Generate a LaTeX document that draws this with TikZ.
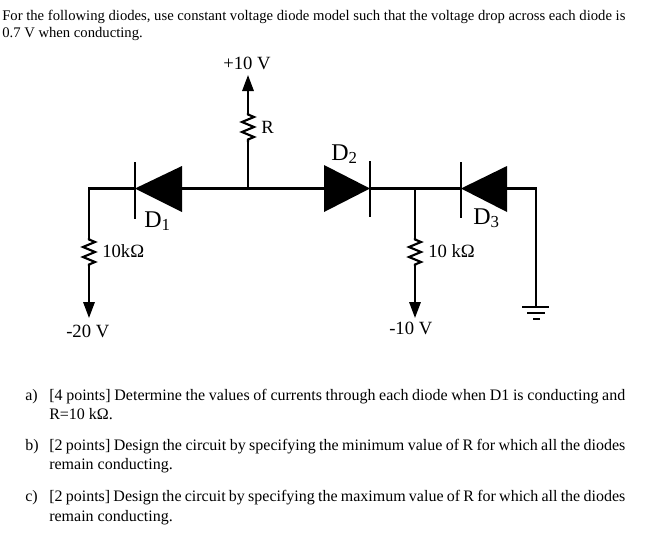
\documentclass[tikz,border=0pt]{standalone}
\usepackage{fontspec}
\setmainfont{Liberation Serif}
\usetikzlibrary{arrows.meta}
\newcommand{\zig}[2]{\draw[wire] (#1) -- ++(0,1.5) -- ++(6,2.5) -- ++(-12,5) -- ++(12,5) -- ++(-12,5) -- ++(12,5) -- ++(-6,2.5) -- (#2);}
\newcommand{\itm}[2]{\makebox[18pt][l]{#1}\makebox[432pt][s]{\spaceskip=3pt plus 1fil minus 1fil #2}}
\tikzset{
 x=0.75pt,y=-0.75pt,
 wire/.style={line width=1.6pt,line join=miter},
 tip/.style={-{Triangle[length=12pt,width=8.5pt]},line width=1.6pt,shorten >=0pt},
 body/.style={fill=black,draw=none},
 bar/.style={line width=1.3pt},
 gnd/.style={line width=2pt},
 txt/.style={anchor=base west,inner sep=0pt,font=\fontsize{11}{13}\selectfont},
 qtxt/.style={anchor=base west,inner sep=0pt,font=\fontsize{12}{14}\selectfont},
 lab/.style={anchor=base west,inner sep=0pt,font=\fontsize{14}{16}\selectfont},
 big/.style={anchor=base west,inner sep=0pt,font=\fontsize{18}{20}\selectfont},
}
\begin{document}
\begin{tikzpicture}
\useasboundingbox (0,0) rectangle (659,533);
% text
\node[txt] (t1) at (2,20) {For the following diodes, use constant voltage diode model such that the voltage drop across each diode is};
\node[txt] (t2) at (2,37) {0.7 V when conducting.};
\node[qtxt] (a1) at (25,400) {\itm{a)}{[4 points] Determine the values of currents through each diode when D1 is conducting and}};
\node[qtxt] (a2) at (49,419) {R=10 kΩ.};
\node[qtxt] (b1) at (25,450) {\itm{b)}{[2 points] Design the circuit by specifying the minimum value of R for which all the diodes}};
\node[qtxt] (b2) at (49,469) {remain conducting.};
\node[qtxt] (c1) at (25,501) {\itm{c)}{[2 points] Design the circuit by specifying the maximum value of R for which all the diodes}};
\node[qtxt] (c2) at (49,521) {remain conducting.};
% labels
\node[lab] (vp) at (223,69) {+10 V};
\node[lab] (rl) at (261,133) {R};
\node[lab] (k1) at (102,257) {10kΩ};
\node[lab] (k2) at (428,257) {10 kΩ};
\node[lab] (vm1) at (66,337) {-20 V};
\node[lab] (vm2) at (389,334) {-10 V};
\node[big] (d1) at (144,227) {D\textsubscript{1}};
\node[big] (d2) at (331,160) {D\textsubscript{2}};
\node[big] (d3) at (473,224) {D\textsubscript{3}};
% coordinates
\coordinate (J) at (248,188.5);
\coordinate (Rtop) at (248,113);
\coordinate (Rbot) at (248,142);
\coordinate (Vp) at (248,75);
\coordinate (D1c) at (135,188.5);
\coordinate (D1a) at (182,188.5);
\coordinate (L) at (89,188.5);
\coordinate (R1t) at (89,238);
\coordinate (R1b) at (89,266);
\coordinate (Vm1) at (89,318);
\coordinate (D2a) at (324,188.5);
\coordinate (D2c) at (370,188.5);
\coordinate (M) at (415,188.5);
\coordinate (R2t) at (415,238);
\coordinate (R2b) at (415,266);
\coordinate (Vm2) at (415,318);
\coordinate (D3c) at (461,188.5);
\coordinate (D3a) at (507,188.5);
\coordinate (E) at (536,188.5);
\coordinate (G) at (536,307);
% wires
\draw[wire] (D1c) -- (L) -- (R1t);
\draw[wire] (D1a) -- (D2a);
\draw[wire] (J) -- (Rbot);
\draw[wire] (D2c) -- (D3c);
\draw[wire] (M) -- (R2t);
\draw[wire] (D3a) -- (E) -- (G);
% resistors
\zig{Rtop}{Rbot}
\zig{R1t}{R1b}
\zig{R2t}{R2b}
\draw[tip] (Rtop) -- (Vp);
\draw[tip] (R1b) -- (Vm1);
\draw[tip] (R2b) -- (Vm2);
% diodes
\fill[body] (D1c) -- (D1a |- 0,166) -- (D1a |- 0,212) -- cycle;
\draw[bar] (135,162) -- (135,219);
\fill[body] (D2c) -- (D2a |- 0,165) -- (D2a |- 0,212) -- cycle;
\draw[bar] (370,161) -- (370,217);
\fill[body] (D3c) -- (D3a |- 0,166) -- (D3a |- 0,212) -- cycle;
\draw[bar] (461,162) -- (461,218);
% ground
\draw[gnd] (522,307) -- (549,307);
\draw[gnd] (527,313) -- (545,313);
\draw[gnd] (533,319) -- (540,319);
\end{tikzpicture}
\end{document}
